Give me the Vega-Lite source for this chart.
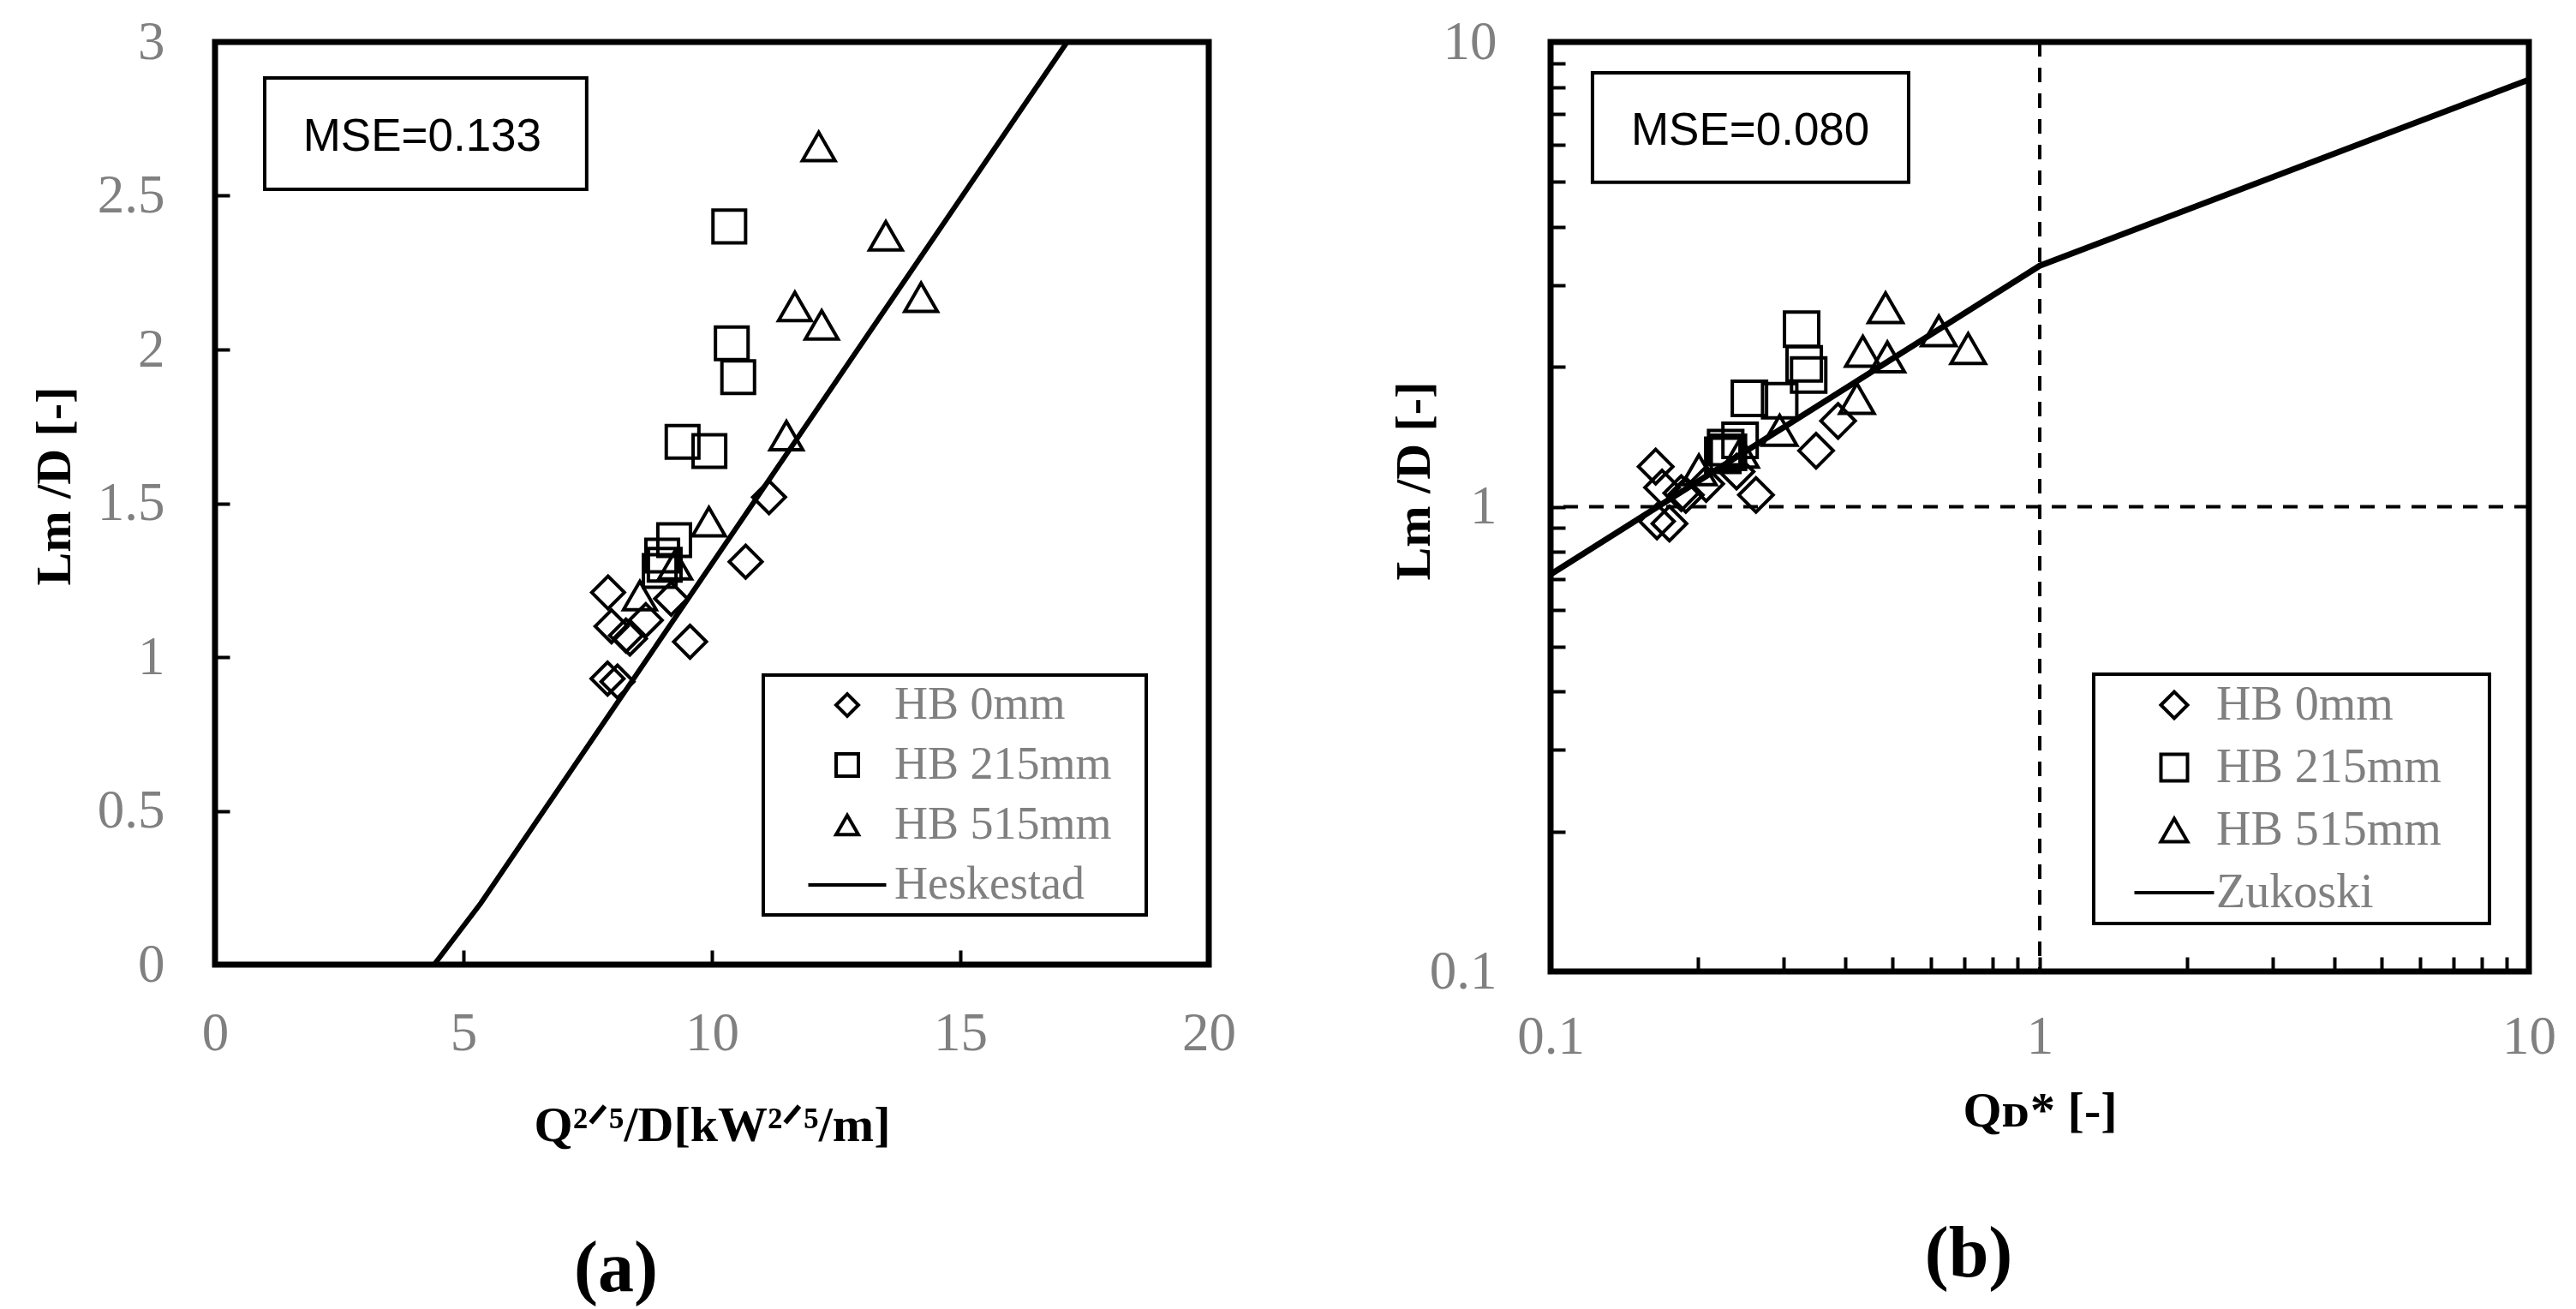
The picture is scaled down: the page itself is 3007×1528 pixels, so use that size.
{
  "$schema": "https://vega.github.io/schema/vega-lite/v6.json",
  "background": "white",
  "padding": {"left": 31, "top": 14, "right": 0, "bottom": 0},
  "config": {
    "view": {"stroke": "black", "strokeWidth": 7},
    "axis": {
      "grid": false, "domain": false,
      "tickColor": "black", "tickWidth": 4, "tickSize": -17,
      "labelFont": "Liberation Serif", "labelFontSize": 63, "labelColor": "#808080",
      "labelFlush": false, "labelOverlap": false,
      "titleFont": "Liberation Serif", "titleFontSize": 58, "titleFontWeight": "bold", "titleColor": "black"
    },
    "legend": {"strokeWidth": 4, "labelLimit": 600},
    "title": {"font": "Liberation Serif", "fontSize": 84, "fontWeight": "bold", "color": "black"}
  },
  "datasets": {
    "a_pts": [
      {"series": "HB 0mm", "q": 11.15, "l": 1.52},
      {"series": "HB 0mm", "q": 10.68, "l": 1.31},
      {"series": "HB 0mm", "q": 7.91, "l": 1.21},
      {"series": "HB 0mm", "q": 9.18, "l": 1.19},
      {"series": "HB 0mm", "q": 7.98, "l": 1.10},
      {"series": "HB 0mm", "q": 8.67, "l": 1.12},
      {"series": "HB 0mm", "q": 8.27, "l": 1.07},
      {"series": "HB 0mm", "q": 8.35, "l": 1.06},
      {"series": "HB 0mm", "q": 9.56, "l": 1.05},
      {"series": "HB 0mm", "q": 7.90, "l": 0.93},
      {"series": "HB 0mm", "q": 8.10, "l": 0.92},
      {"series": "HB 215mm", "q": 10.35, "l": 2.40},
      {"series": "HB 215mm", "q": 10.40, "l": 2.02},
      {"series": "HB 215mm", "q": 10.53, "l": 1.91},
      {"series": "HB 215mm", "q": 9.41, "l": 1.70},
      {"series": "HB 215mm", "q": 9.95, "l": 1.67},
      {"series": "HB 215mm", "q": 9.24, "l": 1.38},
      {"series": "HB 215mm", "q": 9.00, "l": 1.33},
      {"series": "HB 215mm", "q": 9.05, "l": 1.30},
      {"series": "HB 215mm", "q": 8.95, "l": 1.28},
      {"series": "HB 515mm", "q": 12.15, "l": 2.66},
      {"series": "HB 515mm", "q": 13.50, "l": 2.37},
      {"series": "HB 515mm", "q": 14.21, "l": 2.17},
      {"series": "HB 515mm", "q": 11.67, "l": 2.14},
      {"series": "HB 515mm", "q": 12.21, "l": 2.08},
      {"series": "HB 515mm", "q": 11.50, "l": 1.72},
      {"series": "HB 515mm", "q": 9.94, "l": 1.44},
      {"series": "HB 515mm", "q": 9.26, "l": 1.30},
      {"series": "HB 515mm", "q": 8.55, "l": 1.20}
    ],
    "a_line": [
      {"q": 4.41, "l": 0},
      {"q": 5.35, "l": 0.20},
      {"q": 17.15, "l": 3}
    ],
    "b_pts": [
      {"series": "HB 0mm", "q": 0.387, "l": 1.53},
      {"series": "HB 0mm", "q": 0.349, "l": 1.32},
      {"series": "HB 0mm", "q": 0.164, "l": 1.22},
      {"series": "HB 0mm", "q": 0.240, "l": 1.19},
      {"series": "HB 0mm", "q": 0.169, "l": 1.10},
      {"series": "HB 0mm", "q": 0.208, "l": 1.12},
      {"series": "HB 0mm", "q": 0.185, "l": 1.07},
      {"series": "HB 0mm", "q": 0.189, "l": 1.06},
      {"series": "HB 0mm", "q": 0.263, "l": 1.06},
      {"series": "HB 0mm", "q": 0.165, "l": 0.93},
      {"series": "HB 0mm", "q": 0.175, "l": 0.92},
      {"series": "HB 215mm", "q": 0.326, "l": 2.41},
      {"series": "HB 215mm", "q": 0.330, "l": 2.03},
      {"series": "HB 215mm", "q": 0.337, "l": 1.92},
      {"series": "HB 215mm", "q": 0.255, "l": 1.71},
      {"series": "HB 215mm", "q": 0.294, "l": 1.69},
      {"series": "HB 215mm", "q": 0.244, "l": 1.39},
      {"series": "HB 215mm", "q": 0.228, "l": 1.34},
      {"series": "HB 215mm", "q": 0.231, "l": 1.31},
      {"series": "HB 215mm", "q": 0.225, "l": 1.29},
      {"series": "HB 515mm", "q": 0.484, "l": 2.68},
      {"series": "HB 515mm", "q": 0.622, "l": 2.39},
      {"series": "HB 515mm", "q": 0.714, "l": 2.19},
      {"series": "HB 515mm", "q": 0.435, "l": 2.16},
      {"series": "HB 515mm", "q": 0.488, "l": 2.10},
      {"series": "HB 515mm", "q": 0.423, "l": 1.71},
      {"series": "HB 515mm", "q": 0.294, "l": 1.46},
      {"series": "HB 515mm", "q": 0.245, "l": 1.31},
      {"series": "HB 515mm", "q": 0.201, "l": 1.20}
    ],
    "b_line": [
      {"q": 0.1, "l": 0.715},
      {"q": 1, "l": 3.3},
      {"q": 10, "l": 8.3}
    ]
  },
  "spacing": 172,
  "resolve": {
    "scale": {"x": "independent", "y": "independent", "shape": "independent"},
    "legend": {"shape": "independent"}
  },
  "hconcat": [
    {
      "width": 1160,
      "height": 1077,
      "title": {"text": "(a)", "orient": "bottom", "offset": 98, "dx": -112},
      "layer": [
        {
          "data": {"name": "a_pts"},
          "mark": {"type": "point", "filled": false, "size": 1450, "strokeWidth": 4, "color": "black", "opacity": 1},
          "encoding": {
            "x": {
              "field": "q", "type": "quantitative",
              "scale": {"domain": [0, 20], "nice": false, "zero": false},
              "axis": {"values": [0, 5, 10, 15, 20], "format": "~g", "labelPadding": 66, "title": "Q²ᐟ⁵/D[kW²ᐟ⁵/m]", "titlePadding": 47}
            },
            "y": {
              "field": "l", "type": "quantitative",
              "scale": {"domain": [0, 3], "nice": false, "zero": false},
              "axis": {"values": [0, 0.5, 1, 1.5, 2, 2.5, 3], "format": "~g", "labelPadding": 76, "title": "Lm /D [-]", "titlePadding": 20, "titleY": 518}
            },
            "shape": {
              "field": "series", "type": "nominal",
              "scale": {"domain": ["HB 0mm", "HB 215mm", "HB 515mm", "Heskestad"], "range": ["diamond", "square", "triangle-up", "M-3.5,0L3.5,0"]},
              "legend": {
                "orient": "none", "legendX": 640, "legendY": 739,
                "title": " ", "titleOrient": "right", "titleFontSize": 2, "titlePadding": 32,
                "strokeColor": "black", "fillColor": "white", "padding": 8,
                "labelFont": "Liberation Serif", "labelFontSize": 54, "labelColor": "#808080",
                "symbolSize": 676, "symbolStrokeWidth": 4, "symbolStrokeColor": "black", "symbolFillColor": "transparent",
                "symbolOffset": 63, "labelOffset": 28, "rowPadding": 16,
                "encode": {"symbols": {"update": {"strokeWidth": {"signal": "datum.value === 'Heskestad' ? 6 : 4"}}}}
              }
            }
          }
        },
        {
          "data": {"name": "a_line"},
          "mark": {"type": "line", "color": "black", "strokeWidth": 6},
          "encoding": {
            "x": {"field": "q", "type": "quantitative"},
            "y": {"field": "l", "type": "quantitative"}
          }
        },
        {
          "data": {"values": [{}]},
          "mark": {"type": "rect", "fill": "white", "stroke": "black", "strokeWidth": 4},
          "encoding": {
            "x": {"datum": 1.0, "type": "quantitative"},
            "x2": {"datum": 7.48},
            "y": {"datum": 2.883, "type": "quantitative"},
            "y2": {"datum": 2.521}
          }
        },
        {
          "data": {"values": [{}]},
          "mark": {"type": "text", "text": "MSE=0.133", "font": "Liberation Sans", "fontSize": 53, "align": "center", "baseline": "alphabetic", "color": "black"},
          "encoding": {
            "x": {"datum": 4.17, "type": "quantitative"},
            "y": {"datum": 2.646, "type": "quantitative"}
          }
        }
      ]
    },
    {
      "width": 1142,
      "height": 1085,
      "title": {"text": "(b)", "orient": "bottom", "offset": 98, "dx": -83},
      "layer": [
        {
          "data": {"values": [{}]},
          "mark": {"type": "rule", "strokeDash": [17, 13], "strokeWidth": 4, "color": "black"},
          "encoding": {"x": {"datum": 1, "type": "quantitative"}}
        },
        {
          "data": {"values": [{}]},
          "mark": {"type": "rule", "strokeDash": [17, 13], "strokeWidth": 4, "color": "black"},
          "encoding": {"y": {"datum": 1, "type": "quantitative"}}
        },
        {
          "data": {"name": "b_pts"},
          "mark": {"type": "point", "filled": false, "size": 1600, "strokeWidth": 4, "color": "black", "opacity": 1},
          "encoding": {
            "x": {
              "field": "q", "type": "quantitative",
              "scale": {"type": "log", "domain": [0.1, 10], "nice": false},
              "axis": {
                "values": [0.1, 0.2, 0.3, 0.4, 0.5, 0.6, 0.7, 0.8, 0.9, 1, 2, 3, 4, 5, 6, 7, 8, 9, 10],
                "format": "~g",
                "labelExpr": "datum.value == 0.1 || datum.value == 1 || datum.value == 10 ? datum.label : ''",
                "labelPadding": 62, "title": "Qᴅ* [-]", "titlePadding": 26
              }
            },
            "y": {
              "field": "l", "type": "quantitative",
              "scale": {"type": "log", "domain": [0.1, 10], "nice": false},
              "axis": {
                "values": [0.1, 0.2, 0.3, 0.4, 0.5, 0.6, 0.7, 0.8, 0.9, 1, 2, 3, 4, 5, 6, 7, 8, 9, 10],
                "format": "~g",
                "labelExpr": "datum.value == 0.1 || datum.value == 1 || datum.value == 10 ? datum.label : ''",
                "labelPadding": 80, "title": "Lm /D [-]", "titlePadding": -12, "titleY": 512
              }
            },
            "shape": {
              "field": "series", "type": "nominal",
              "scale": {"domain": ["HB 0mm", "HB 215mm", "HB 515mm", "Zukoski"], "range": ["diamond", "square", "triangle-up", "M-3,0L3,0"]},
              "legend": {
                "orient": "none", "legendX": 634, "legendY": 738,
                "title": " ", "titleOrient": "right", "titleFontSize": 2, "titlePadding": 48,
                "strokeColor": "black", "fillColor": "white", "padding": 8,
                "labelFont": "Liberation Serif", "labelFontSize": 56, "labelColor": "#808080",
                "symbolSize": 961, "symbolStrokeWidth": 4, "symbolStrokeColor": "black", "symbolFillColor": "transparent",
                "symbolOffset": 58, "labelOffset": 21, "rowPadding": 17,
                "encode": {"symbols": {"update": {"strokeWidth": {"signal": "datum.value === 'Zukoski' ? 6 : 4"}}}}
              }
            }
          }
        },
        {
          "data": {"name": "b_line"},
          "mark": {"type": "line", "color": "black", "strokeWidth": 7},
          "encoding": {
            "x": {"field": "q", "type": "quantitative"},
            "y": {"field": "l", "type": "quantitative"}
          }
        },
        {
          "data": {"values": [{}]},
          "mark": {"type": "rect", "fill": "white", "stroke": "black", "strokeWidth": 4},
          "encoding": {
            "x": {"datum": 0.1218, "type": "quantitative"},
            "x2": {"datum": 0.5395},
            "y": {"datum": 8.58, "type": "quantitative"},
            "y2": {"datum": 4.99}
          }
        },
        {
          "data": {"values": [{}]},
          "mark": {"type": "text", "text": "MSE=0.080", "font": "Liberation Sans", "fontSize": 53, "align": "center", "baseline": "alphabetic", "color": "black"},
          "encoding": {
            "x": {"datum": 0.256, "type": "quantitative"},
            "y": {"datum": 6.01, "type": "quantitative"}
          }
        }
      ]
    }
  ]
}
